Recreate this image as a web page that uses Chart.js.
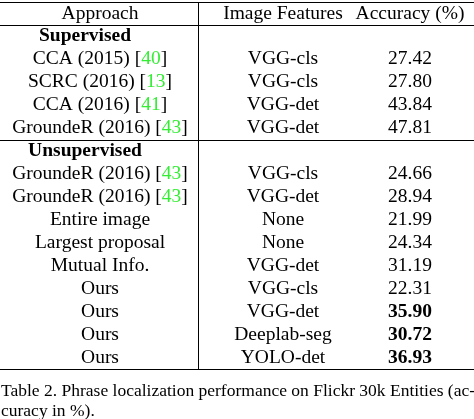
<!DOCTYPE html>
<html>
<head>
<meta charset="utf-8">
<script src="https://cdn.jsdelivr.net/npm/chart.js@4"></script>
<style>
  html, body { margin: 0; padding: 0; background: #fff; }
  #wrap { width: 474px; height: 419px; }
</style>
</head>
<body>
<div id="wrap"><canvas id="tableChart"></canvas></div>
<script>
// table data
const headers = ["Approach", "Image Features", "Accuracy (%)"];
const approaches = [
  "Supervised", "CCA (2015) [40]", "SCRC (2016) [13]", "CCA (2016) [41]", "GroundeR (2016) [43]",
  "Unsupervised", "GroundeR (2016) [43]", "GroundeR (2016) [43]", "Entire image", "Largest proposal",
  "Mutual Info.", "Ours", "Ours", "Ours", "Ours"
];
const features = [
  "", "VGG-cls", "VGG-cls", "VGG-det", "VGG-det",
  "", "VGG-cls", "VGG-det", "None", "None",
  "VGG-det", "VGG-cls", "VGG-det", "Deeplab-seg", "YOLO-det"
];
const accuracy = [
  null, 27.42, 27.80, 43.84, 47.81,
  null, 24.66, 28.94, 21.99, 24.34,
  31.19, 22.31, 35.90, 30.72, 36.93
];
const boldRows = [12, 13, 14];
const groupRows = [0, 5];
const caption = [
  "Table 2. Phrase localization performance on Flickr 30k Entities (ac-",
  "curacy in %)."
];

const rowLabels = ["header"].concat(approaches.map((a, i) => "r" + i));
const colX = [100, 283, 410];

const FONT = "'Liberation Serif', 'DejaVu Serif', serif";
const SIZE = "19.5px ";

function drawApproach(ctx, text, cx, y, bold) {
  const m = text.match(/^(.*\[)(\d+)(\].*)$/);
  ctx.font = (bold ? "bold " : "") + SIZE + FONT;
  ctx.textAlign = "left";
  if (!m) {
    const w = ctx.measureText(text).width;
    ctx.fillStyle = "#000";
    ctx.fillText(text, cx - w / 2, y);
    return;
  }
  const parts = [[m[1], "#000"], [m[2], "#33ee33"], [m[3], "#000"]];
  const total = parts.reduce((s, p) => s + ctx.measureText(p[0]).width, 0);
  let x = cx - total / 2;
  parts.forEach((p) => {
    ctx.fillStyle = p[1];
    ctx.fillText(p[0], x, y);
    x += ctx.measureText(p[0]).width;
  });
}

const tablePlugin = {
  id: "tablePlugin",
  afterDraw(chart) {
    const ctx = chart.ctx;
    const xs = chart.scales.x;
    const ys = chart.scales.y;
    const step = ys.getPixelForValue(1) - ys.getPixelForValue(0);
    const rowY = (i) => ys.getPixelForValue(i);
    const lineY = (i) => rowY(i) - step / 2;
    ctx.save();
    ctx.textBaseline = "middle";

    ctx.font = SIZE + FONT;
    ctx.fillStyle = "#000";
    ctx.textAlign = "center";
    headers.forEach((h, c) => ctx.fillText(h, xs.getPixelForValue(colX[c]), rowY(0)));

    approaches.forEach((a, i) => {
      const r = i + 1;
      const y = rowY(r);
      if (groupRows.includes(i)) {
        drawApproach(ctx, a, xs.getPixelForValue(85), y, true);
        return;
      }
      drawApproach(ctx, a, xs.getPixelForValue(colX[0]), y, false);
      ctx.font = SIZE + FONT;
      ctx.fillStyle = "#000";
      ctx.textAlign = "center";
      ctx.fillText(features[i], xs.getPixelForValue(colX[1]), y);
      ctx.font = (boldRows.includes(i) ? "bold " : "") + SIZE + FONT;
      ctx.fillText(accuracy[i].toFixed(2), xs.getPixelForValue(colX[2]), y);
    });

    // rules
    ctx.strokeStyle = "#000";
    ctx.lineWidth = 1;
    const left = xs.getPixelForValue(0), right = xs.getPixelForValue(474);
    [lineY(0), lineY(1), lineY(6), lineY(rowLabels.length)].forEach((yy) => {
      ctx.beginPath();
      ctx.moveTo(left, Math.round(yy) + 0.5);
      ctx.lineTo(right, Math.round(yy) + 0.5);
      ctx.stroke();
    });
    const vx = Math.round(xs.getPixelForValue(198)) + 0.5;
    ctx.beginPath();
    ctx.moveTo(vx, lineY(0));
    ctx.lineTo(vx, lineY(rowLabels.length));
    ctx.stroke();

    // caption
    ctx.font = "17.5px " + FONT;
    ctx.textAlign = "left";
    ctx.fillStyle = "#000";
    const base = lineY(rowLabels.length);
    caption.forEach((t, i) => ctx.fillText(t, xs.getPixelForValue(1), base + 22 + i * 20));
    ctx.restore();
  }
};

new Chart(document.getElementById("tableChart"), {
  type: "scatter",
  data: {
    labels: rowLabels,
    datasets: [{ data: rowLabels.map((l, i) => ({ x: 0, y: i })), pointRadius: 0 }]
  },
  options: {
    responsive: true,
    maintainAspectRatio: false,
    animation: false,
    layout: { padding: { top: 2, bottom: 50, left: 0, right: 0 } },
    plugins: { legend: { display: false }, tooltip: { enabled: false } },
    scales: {
      x: { type: "linear", min: 0, max: 474, display: false },
      y: { type: "linear", min: -0.5, max: rowLabels.length - 0.5, reverse: true, display: false }
    }
  },
  plugins: [tablePlugin]
});
</script>
</body>
</html>
